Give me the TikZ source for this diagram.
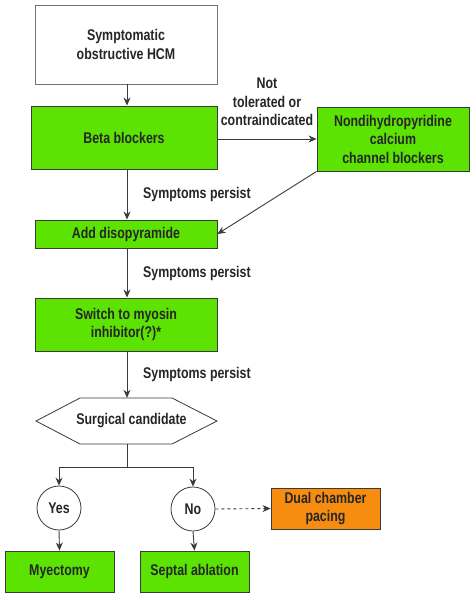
\documentclass[tikz,border=0pt]{standalone}
\usepackage{fontspec}
\setmainfont[FakeStretch=0.8]{Liberation Sans}
\usetikzlibrary{arrows.meta,shapes.geometric}
\definecolor{boxgreen}{HTML}{5CE302}
\definecolor{boxorange}{HTML}{F68D10}
\definecolor{edge}{HTML}{3A3A3A}
\begin{document}
\begin{tikzpicture}[x=1pt,y=-1pt,
  every node/.style={font=\fontsize{15.5}{18.5}\selectfont\bfseries, text=black!85, align=center, inner sep=0pt},
  gbox/.style={draw=edge, line width=0.9pt, fill=boxgreen},
  wbox/.style={draw=black!55, line width=0.9pt, fill=white},
  obox/.style={draw=edge, line width=0.9pt, fill=boxorange},
  circ/.style={draw=edge, line width=0.8pt, circle, minimum size=44pt, fill=white},
  hexline/.style={draw=edge, line width=0.8pt, fill=white, line join=miter},
  arr/.style={draw=edge, line width=0.9pt, -{Stealth[length=8pt,width=7pt]}},
  lbl/.style={anchor=west}]
\useasboundingbox (0,0) rectangle (474,597);
\fill[white] (0,0) rectangle (474,597);
% boxes
\node[wbox, minimum width=182pt, minimum height=79pt] (hcm) at (126,44.5) {Symptomatic\\obstructive HCM};
\node[gbox, minimum width=186pt, minimum height=63pt] (beta) at (124,137.5) {Beta blockers};
\node[gbox, minimum width=152pt, minimum height=64pt] (ndp) at (393,139) {Nondihydropyridine\\calcium\\channel blockers};
\node[gbox, minimum width=182pt, minimum height=28pt] (diso) at (126,234) {Add disopyramide};
\node[gbox, minimum width=182pt, minimum height=53pt] (myo) at (126,324.5) {Switch to myosin\\inhibitor(?)*};
\draw[hexline] (36,421) -- (80,398) -- (172,398) -- (217,421) -- (172,444) -- (80,444) -- cycle;
\node[minimum width=181pt, minimum height=46pt] (surg) at (126.5,421) {\hspace*{10pt}Surgical candidate};
\node[circ] (yes) at (59,508) {Yes};
\node[circ] (no) at (193,509) {No};
\node[obox, minimum width=109pt, minimum height=41pt] (dual) at (325.5,508.5) {Dual chamber\\pacing};
\node[gbox, minimum width=109pt, minimum height=41pt] (mye) at (59.5,571.5) {Myectomy};
\node[gbox, minimum width=109pt, minimum height=41pt] (sept) at (194.5,571.5) {Septal ablation};
% connectors
\draw[arr] (hcm.south -| 127,0) -- (beta.north -| 127,0);
\draw[arr] (beta.east |- 0,139) -- (ndp.west |- 0,139);
\draw[arr] (beta.south -| 127,0) -- (diso.north -| 127,0);
\draw[arr] (ndp.south west) -- (diso.east);
\draw[arr] (diso.south -| 127,0) -- (myo.north -| 127,0);
\draw[arr] (myo.south -| 127,0) -- (surg.north -| 127,0);
\coordinate (split) at (127,467);
\draw[edge, line width=0.8pt] (surg.south -| 127,0) -- (split);
\draw[arr] (split) -| (yes.north);
\draw[arr] (split) -| (no.north);
\draw[arr, dashed, dash pattern=on 3pt off 3pt] (no.east) -- (dual.west);
\draw[arr] (yes.south) -- (mye.north);
\draw[arr] (no.south) -- (sept.north);
% labels
\node (nt) at (267,102) {Not\\tolerated or\\contraindicated};
\node[lbl] (sp1) at (143,194) {Symptoms persist};
\node[lbl] (sp2) at (143,273) {Symptoms persist};
\node[lbl] (sp3) at (143,374) {Symptoms persist};
\end{tikzpicture}
\end{document}
